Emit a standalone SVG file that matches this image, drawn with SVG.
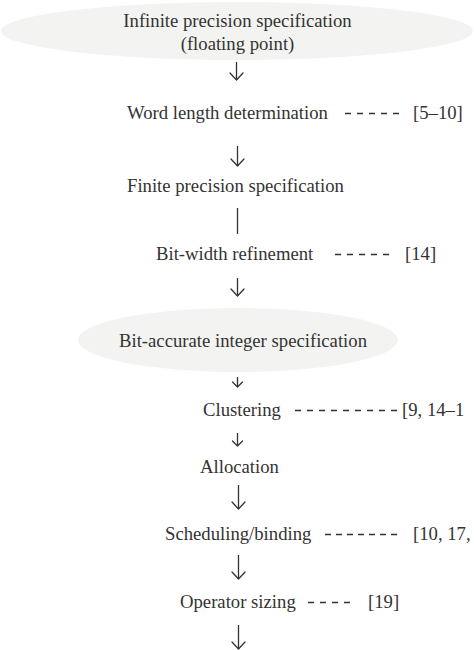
<svg xmlns="http://www.w3.org/2000/svg" width="474" height="650" viewBox="0 0 474 650">
<defs>
<style>
.bg{fill:#ffffff}
.oval{fill:#f3f3f1;stroke:none}
.t{font-family:"Liberation Serif","DejaVu Serif",serif;font-size:18.7px;fill:#333333}
.c{text-anchor:middle}
.arr{stroke:#333333;stroke-width:1.3;fill:none}
.head{stroke:#333333;stroke-width:1.3;fill:none;stroke-linecap:round;stroke-linejoin:round}
.dash{stroke:#333333;stroke-width:1.4;stroke-dasharray:6 6;fill:none}
.dash2{stroke-dasharray:6 5}
</style>
</defs>
<rect class="bg" x="0" y="0" width="474" height="650"/>

<g id="node-infinite">
<ellipse class="oval" cx="237" cy="31" rx="236" ry="29"/>
<text class="t c" x="237.5" y="27">Infinite precision specification</text>
<text class="t c" x="237.5" y="50">(floating point)</text>
</g>

<g id="node-wordlength">
<text class="t" x="127" y="119">Word length determination</text>
<text class="t" x="413" y="119">[5–10]</text>
</g>

<g id="node-finite">
<text class="t" x="127" y="192">Finite precision specification</text>
</g>

<g id="node-bitwidth">
<text class="t" x="156" y="260">Bit-width refinement</text>
<text class="t" x="405" y="260">[14]</text>
</g>

<g id="node-bitaccurate">
<ellipse class="oval" cx="238" cy="340" rx="160" ry="32"/>
<text class="t c" x="243" y="347">Bit-accurate integer specification</text>
</g>

<g id="node-clustering">
<text class="t" x="203" y="416">Clustering</text>
<text class="t" x="402" y="416">[9, 14–1</text>
</g>

<g id="node-allocation">
<text class="t" x="200" y="473">Allocation</text>
</g>

<g id="node-scheduling">
<text class="t" x="165" y="540">Scheduling/binding</text>
<text class="t" x="413" y="540">[10, 17,</text>
</g>

<g id="node-operator">
<text class="t" x="180" y="608">Operator sizing</text>
<text class="t" x="368" y="608">[19]</text>
</g>

<g id="connectors">
<line class="arr" x1="236.5" y1="62" x2="236.5" y2="80"/>
<polyline class="head" points="230,73 236.5,80 243,73"/>

<line class="arr" x1="237.5" y1="146" x2="237.5" y2="166"/>
<polyline class="head" points="231,159 237.5,166 244,159"/>

<line class="arr" x1="237.5" y1="208" x2="237.5" y2="234"/>

<line class="arr" x1="237.5" y1="278" x2="237.5" y2="296"/>
<polyline class="head" points="231,289 237.5,296 244,289"/>

<line class="arr" x1="237.5" y1="377" x2="237.5" y2="387"/>
<polyline class="head" points="232.5,382 237.5,387 242.5,382"/>

<line class="arr" x1="237.5" y1="433" x2="237.5" y2="446"/>
<polyline class="head" points="232.5,441 237.5,446 242.5,441"/>

<line class="arr" x1="238.5" y1="485" x2="238.5" y2="509"/>
<polyline class="head" points="232,502 238.5,509 245,502"/>

<line class="arr" x1="238.5" y1="555" x2="238.5" y2="579"/>
<polyline class="head" points="232,572 238.5,579 245,572"/>

<line class="arr" x1="238.5" y1="625" x2="238.5" y2="649"/>
<polyline class="head" points="232,642 238.5,649 245,642"/>

<line class="dash" x1="345" y1="113.5" x2="399" y2="113.5"/>
<line class="dash" x1="335" y1="254.5" x2="389" y2="254.5"/>
<line class="dash" x1="295" y1="410.5" x2="397" y2="410.5"/>
<line class="dash dash2" x1="325" y1="534.5" x2="397" y2="534.5"/>
<line class="dash" x1="308" y1="602.5" x2="350" y2="602.5"/>
</g>
</svg>
